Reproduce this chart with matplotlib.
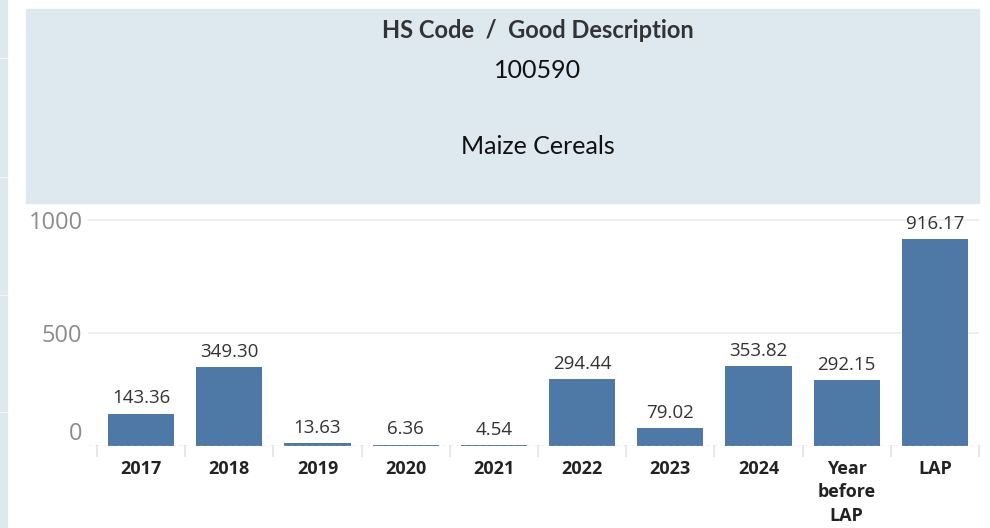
import matplotlib
matplotlib.use("agg")
import matplotlib.pyplot as plt
import matplotlib.transforms as mtransforms
from matplotlib.patches import Rectangle

categories = ["2017", "2018", "2019", "2020", "2021", "2022", "2023", "2024",
              "Year\nbefore\nLAP", "LAP"]
values = [143.36, 349.30, 13.63, 6.36, 4.54, 294.44, 79.02, 353.82, 292.15, 916.17]
yticks = [0, 500, 1000]

title = "HS Code  /  Good Description"
code = "100590"
desc = "Maize Cereals"

bar_color = "#4e79a7"
panel_color = "#dde9ef"

plt.rcParams["font.family"] = ["Open Sans", "DejaVu Sans"]

fig = plt.figure(figsize=(9.9, 5.28), dpi=100)

# left edge strips
for y0, y1 in [(0, 57), (59, 176), (178, 294), (296, 411), (413, 528)]:
	fig.patches.append(Rectangle((0, 1 - y1 / 528), 7 / 990, (y1 - y0) / 528,
		transform=fig.transFigure, color=panel_color, zorder=0))

# header panel
fig.patches.append(Rectangle((26 / 990, 1 - 203 / 528), 953 / 990, 194 / 528,
	transform=fig.transFigure, color=panel_color, zorder=0))

cx = 538 / 990
fig.text(cx, 1 - 31 / 528, title, ha="center", va="center", fontsize=17,
	fontweight="bold", color="#333333", family=["Lato", "DejaVu Sans"])
fig.text(cx, 1 - 71 / 528, code, ha="center", va="center", fontsize=18,
	color="#111111", family=["Lato", "DejaVu Sans"])
fig.text(cx, 1 - 147 / 528, desc, ha="center", va="center", fontsize=18,
	color="#111111", family=["Lato", "DejaVu Sans"])

ax = fig.add_axes([88 / 990, 82 / 528, 891 / 990, 237.3 / 528])
x = list(range(len(categories)))
bars = ax.bar(x, values, width=0.75, color=bar_color, zorder=3)

for xi, v in zip(x, values):
	ax.annotate("%.2f" % v, (xi, v), xytext=(0, 4.5), textcoords="offset points",
		ha="center", va="bottom", fontsize=13.5, color="#333333", zorder=4)

ax.set_xlim(-0.602, 9.5)
ax.set_ylim(0, 1050)
ax.set_yticks(yticks)
ax.set_yticklabels(["%d" % t for t in yticks], fontsize=17, color="#8c8c8c")
ax.get_yticklabels()[0].set_va("bottom")
ax.set_xticks(x)
ax.set_xticklabels(categories, fontsize=13, fontweight="bold", color="#222222",
	linespacing=1.4)
ax.tick_params(axis="x", length=0, pad=10)
ax.tick_params(axis="y", length=0, pad=4)

for s in ax.spines.values():
	s.set_visible(False)

for t in yticks[1:]:
	ax.axhline(t, color="#ececec", lw=1.2, zorder=1)
ax.axhline(0, color="#c4c4c4", lw=1, ls=(0, (3, 2)), zorder=4)

trans = mtransforms.blended_transform_factory(ax.transData, ax.transAxes)
for b in [i - 0.5 for i in range(len(categories) + 1)]:
	ax.plot([b, b], [0, -10 / 237.3], transform=trans, color="#e8e8e8", lw=1.5,
		clip_on=False)

fig.savefig("out.png", dpi=100)
